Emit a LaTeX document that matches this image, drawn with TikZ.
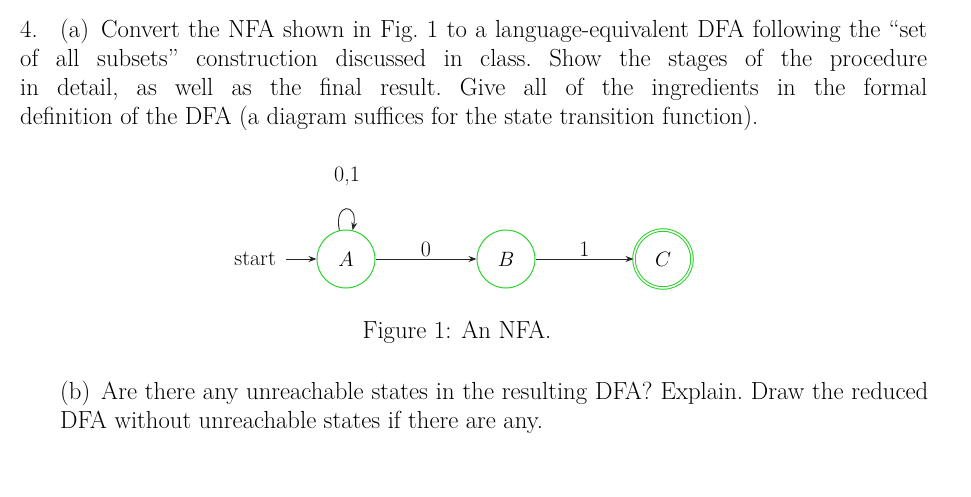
\documentclass[tikz,border=0pt]{standalone}
\usetikzlibrary{arrows.meta}
\definecolor{stategreen}{RGB}{40,210,40}
\tikzset{
  body/.style={inner sep=0pt,font=\fontsize{24.7}{29}\selectfont},
  state/.style={circle,draw=stategreen,line width=1pt,minimum size=58pt,inner sep=0pt,font=\fontsize{22}{25}\selectfont},
  accepting/.style={double=white,double distance=1.5pt},
  edge/.style={-{Stealth[length=8pt,width=6pt]},line width=0.9pt,draw=black!85},
  lbl/.style={font=\fontsize{22}{25}\selectfont,inner sep=2pt}
}
\begin{document}
\begin{tikzpicture}[x=1pt,y=1pt]
\useasboundingbox (0,0) rectangle (971,-497);
\node[body,anchor=north west,text width=907pt,align=justify] (ta) at (20,-19) {\leavevmode\hangindent=81pt\hangafter=1\frenchspacing\makebox[40pt][l]{4.}\makebox[41pt][l]{(a)}Convert the NFA shown in Fig.~1 to a language-equivalent DFA following the ``set\linebreak of all subsets'' construction discussed in class. Show the stages of the procedure\linebreak in detail, as well as the final result. Give all of the ingredients in the formal\linebreak definition of the DFA (a diagram suffices for the state transition function).};
\node[state] (A) at (346,-259) {$A$};
\node[state] (B) at (506,-259) {$B$};
\node[state,accepting] (C) at (663,-259) {$C$};
\node[lbl,anchor=east] (st) at (278,-259) {start};
\coordinate (s0) at (286,-259);
\draw[edge] (s0) -- (A);
\draw[edge] (A) -- node[lbl,above] {0} (B);
\draw[edge] (B) -- node[lbl,above] {1} (C);
\draw[edge] (A.103) .. controls +(-6,28) and +(6,28) .. (A.77);
\node[lbl] (l01) at (347,-176) {0,1};
\node[body,anchor=base] (cap) at (457,-338) {Figure 1: An NFA.};
\node[body,anchor=north west,text width=868pt,align=justify] (tb) at (60,-381) {\leavevmode\hangindent=41pt\hangafter=1\frenchspacing\makebox[41pt][l]{(b)}Are there any unreachable states in the resulting DFA? Explain. Draw the reduced\linebreak DFA without unreachable states if there are any.};
\end{tikzpicture}
\end{document}
